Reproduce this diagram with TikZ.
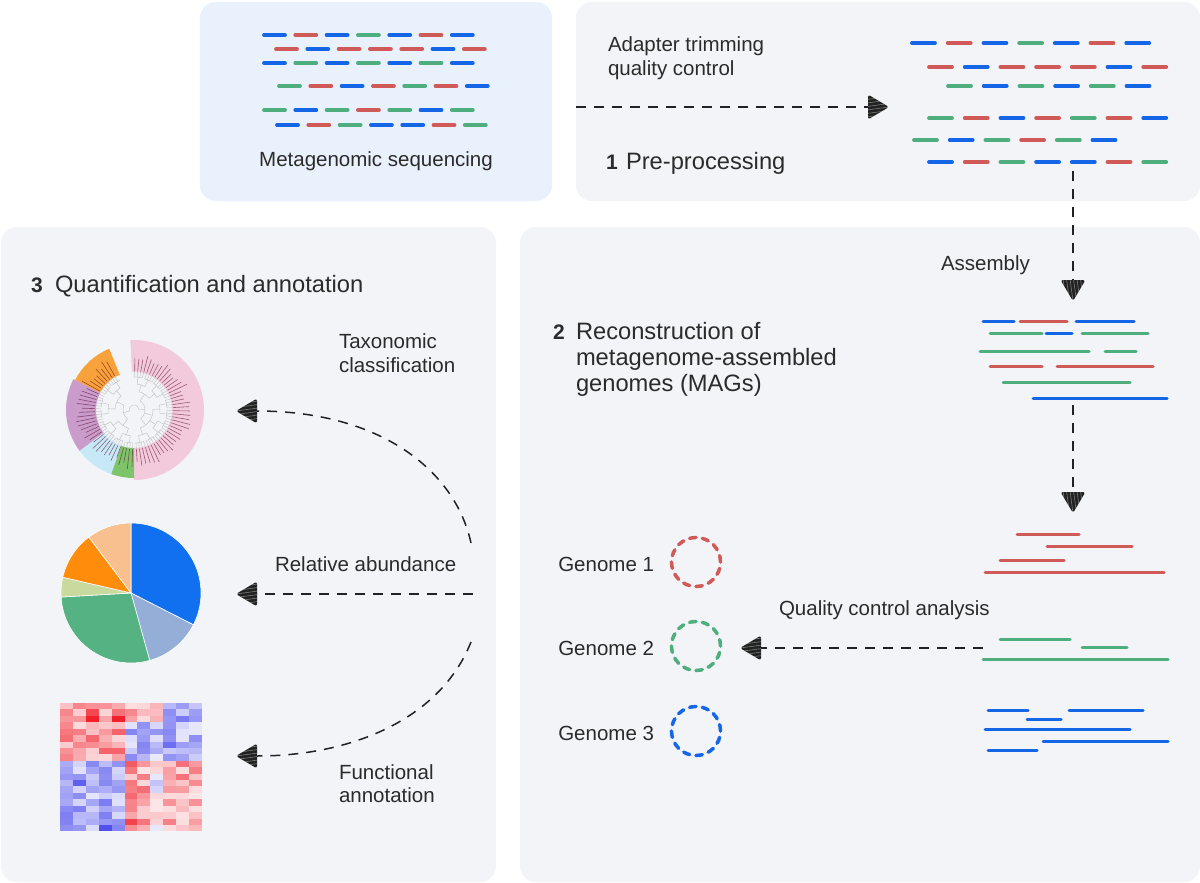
\documentclass[tikz,border=0pt]{standalone}
\usepackage{fontspec}
\setmainfont{Liberation Sans}
\usetikzlibrary{calc}
\definecolor{boxgray}{HTML}{F3F4F8}
\definecolor{boxblue}{HTML}{E9F1FC}
\definecolor{rb}{HTML}{1466E6}
\definecolor{rr}{HTML}{D05A57}
\definecolor{rg}{HTML}{4FAE7E}
\definecolor{txt}{HTML}{2B2B2B}
\definecolor{arrc}{HTML}{222222}
\definecolor{hmred}{HTML}{F0202C}
\definecolor{hmblue}{HTML}{4A4AEC}
\definecolor{pblue}{HTML}{1070F0}
\definecolor{plblue}{HTML}{94AED8}
\definecolor{pgreen}{HTML}{55B283}
\definecolor{pyg}{HTML}{C9DA9E}
\definecolor{porange}{HTML}{FF8C0A}
\definecolor{ppeach}{HTML}{F8C08F}
\definecolor{tpink}{HTML}{F2CADB}
\definecolor{torange}{HTML}{F7A23A}
\definecolor{tpurple}{HTML}{C99CCC}
\definecolor{tlblue}{HTML}{C6E8F7}
\definecolor{tgreen}{HTML}{7DC46B}
\newcommand\readrow[5]{\foreach \cc [count=\i from 0] in {#5}{\draw[read,\cc] ({#2+\i*#3},#1) -- ++(#4,0);}}
\newcommand\treesector[4]{\fill[#1] ($(tc)+(#2:38)$) arc[start angle=#2,end angle=#3,radius=38] -- ($(tc)+(#3:#4)$) arc[start angle=#3,end angle=#2,radius=#4] -- cycle;}
\newcommand\pieslice[3]{\fill[#1, draw=white, line width=0.6pt] (pc) -- ($(pc)+(#2:70)$) arc[start angle=#2, end angle=#3, radius=70] -- cycle;}
\newcommand\treetick[1]{%
  \pgfmathsetmacro\L{50+10*rnd}%
  \draw[tree] ($(tc)+(#1:33)$) -- ($(tc)+(#1:39)$);%
  \draw[black!55!purple, opacity=0.55, line width=0.6pt] ($(tc)+(#1:39)$) -- ($(tc)+(#1:\L)$);}
\tikzset{
  read/.style={line width=3.8pt, line cap=round},
  contig/.style={line width=3pt, line cap=round},
  body/.style={font=\fontsize{20.5}{24}\selectfont},
  head/.style={font=\fontsize{23.7}{28}\selectfont},
  num/.style={font=\bfseries\fontsize{21}{24}\selectfont},
  conn/.style={arrc, line width=1.5pt, dash pattern=on 10pt off 8pt},
  gcirc/.style={circle, minimum size=49pt, line width=3.5pt, dash pattern=on 6.5pt off 6.3pt, line cap=round},
  tree/.style={gray!45, line width=0.5pt},
  ahead/.pic={
    \fill[arrc, rounded corners=2.5pt] (0,0) -- (-21,-12.5) -- (-21,12.5) -- cycle;
    \begin{scope}
      \clip (0,0) -- (-21,-12.5) -- (-21,12.5) -- cycle;
      \foreach \k in {-11,-7.5,...,14} \draw[white, opacity=0.4, line width=0.6pt] (-22,\k) -- (0,\k-3);
    \end{scope}
  }
}
\begin{document}
\begin{tikzpicture}[x=1pt,y=-1pt, every node/.style={inner sep=0pt, outer sep=0pt, text=txt}]
\useasboundingbox (0,0) rectangle (1200,883);
\fill[white] (0,0) rectangle (1200,883);

% boxes
\fill[boxblue, rounded corners=16pt] (200,2) rectangle (552,201);
\fill[boxgray, rounded corners=16pt] (576,2) rectangle (1200,201);
\fill[boxgray, rounded corners=16pt] (1,227) rectangle (496,882);
\fill[boxgray, rounded corners=16pt] (520,227) rectangle (1200,882);

% raw reads
\readrow{35}{264}{31.3}{21}{rb,rr,rb,rg,rb,rr,rb}
\readrow{49}{276}{31.3}{21}{rr,rb,rr,rr,rr,rb,rr}
\readrow{63}{264}{31.3}{21}{rb,rg,rb,rg,rb,rg,rb}
\readrow{86}{279}{31.3}{21}{rg,rr,rb,rr,rg,rr,rb}
\readrow{110}{264}{31.3}{21}{rg,rb,rg,rr,rg,rb,rg}
\readrow{125}{277}{31.3}{21}{rb,rr,rg,rb,rb,rr,rg}

% trimmed reads
\readrow{43}{912}{35.7}{23}{rb,rr,rb,rg,rb,rr,rb}
\readrow{67}{929}{35.7}{23}{rr,rb,rr,rr,rr,rb,rr}
\readrow{86}{948}{35.7}{23}{rg,rb,rg,rb,rg,rb}
\readrow{118}{929}{35.7}{23}{rg,rr,rb,rr,rg,rr,rb}
\readrow{140}{914}{35.7}{23}{rg,rb,rg,rr,rg,rb}
\readrow{162}{929}{35.7}{23}{rb,rr,rg,rb,rb,rr,rg}

% contigs
\draw[contig,rb] (983,321) -- (1014,321);
\draw[contig,rr] (1020,321) -- (1067,321);
\draw[contig,rb] (1076,321) -- (1134,321);
\draw[contig,rg] (990,333) -- (1042,333);
\draw[contig,rb] (1046,333) -- (1072,333);
\draw[contig,rg] (1082,333) -- (1148,333);
\draw[contig,rg] (980,351) -- (1089,351);
\draw[contig,rg] (1105,351) -- (1136,351);
\draw[contig,rr] (990,366) -- (1042,366);
\draw[contig,rr] (1057,366) -- (1153,366);
\draw[contig,rg] (1003,382) -- (1130,382);
\draw[contig,rb] (1033,398) -- (1167,398);

% binned contigs
\draw[contig,rr] (1017,534) -- (1079,534);
\draw[contig,rr] (1047,546) -- (1132,546);
\draw[contig,rr] (1000,560) -- (1064,560);
\draw[contig,rr] (985,572) -- (1164,572);
\draw[contig,rg] (1000,639) -- (1070,639);
\draw[contig,rg] (1082,647) -- (1127,647);
\draw[contig,rg] (983,659) -- (1168,659);
\draw[contig,rb] (988,710) -- (1028,710);
\draw[contig,rb] (1069,710) -- (1143,710);
\draw[contig,rb] (1027,719) -- (1061,719);
\draw[contig,rb] (985,729) -- (1130,729);
\draw[contig,rb] (1043,741) -- (1168,741);
\draw[contig,rb] (988,750) -- (1037,750);

% texts
\node[body, anchor=base] (seq) at (376,166) {Metagenomic sequencing};
\node[body, anchor=base west] (adapt) at (608,52) {Adapter trimming};
\node[body, anchor=base west] (qualc) at (608,76) {quality control};
\node[num, anchor=base west] (n1) at (606,169) {1};
\node[head, anchor=base west] (pre) at (626,169) {Pre-processing};
\node[body, anchor=base west] (asm) at (941,270) {Assembly};
\node[num, anchor=base west] (n2) at (553,339) {2};
\node[head, anchor=base west] (rec1) at (576,339) {Reconstruction of};
\node[head, anchor=base west] (rec2) at (576,365) {metagenome-assembled};
\node[head, anchor=base west] (rec3) at (576,391) {genomes (MAGs)};
\node[num, anchor=base west] (n3) at (31,292) {3};
\node[head, anchor=base west] (quant) at (55,292) {Quantification and annotation};
\node[body, anchor=base west] (tax1) at (339,348) {Taxonomic};
\node[body, anchor=base west] (tax2) at (339,372) {classification};
\node[body, anchor=base west] (relab) at (275,571) {Relative abundance};
\node[body, anchor=base west] (fun1) at (339,779) {Functional};
\node[body, anchor=base west] (fun2) at (339,802) {annotation};
\node[body, anchor=base west] (qca) at (779,615) {Quality control analysis};
\node[body, anchor=base east] (gl1) at (654,571) {Genome 1};
\node[body, anchor=base east] (gl2) at (654,655) {Genome 2};
\node[body, anchor=base east] (gl3) at (654,740) {Genome 3};

% genome bins
\node[gcirc, draw=rr] (g1) at (696,562) {};
\node[gcirc, draw=rg] (g2) at (696,646) {};
\node[gcirc, draw=rb] (g3) at (696,731) {};

% connectors
\coordinate (a1s) at (576,107); \coordinate (a1b) at (868,107); \coordinate (a1t) at (889,107);
\draw[conn] (a1s) -- (a1b);
\pic at (a1t) {ahead};
\coordinate (a2s) at (1073,171); \coordinate (a2b) at (1073,280); \coordinate (a2t) at (1073,301);
\draw[conn] (a2s) -- (a2b);
\pic[rotate=-90] at (a2t) {ahead};
\coordinate (a3s) at (1073,405); \coordinate (a3b) at (1073,492); \coordinate (a3t) at (1073,513);
\draw[conn] (a3s) -- (a3b);
\pic[rotate=-90] at (a3t) {ahead};
\coordinate (a4s) at (983,648); \coordinate (a4b) at (761,648); \coordinate (a4t) at (740,648);
\draw[conn] (a4s) -- (a4b);
\pic[rotate=180] at (a4t) {ahead};
\coordinate (a5s) at (473,594); \coordinate (a5b) at (257,594); \coordinate (a5t) at (236,594);
\draw[conn] (a5s) -- (a5b);
\pic[rotate=180] at (a5t) {ahead};
\coordinate (a6s) at (471,543); \coordinate (a6b) at (257,411); \coordinate (a6t) at (236,411);
\draw[conn] (a6s) .. controls (455,470) and (380,411) .. (a6b);
\pic[rotate=180] at (a6t) {ahead};
\coordinate (a7s) at (471,642); \coordinate (a7b) at (257,756); \coordinate (a7t) at (236,756);
\draw[conn] (a7s) .. controls (440,720) and (350,756) .. (a7b);
\pic[rotate=180] at (a7t) {ahead};

% pie chart
\coordinate (pc) at (131,593);
\pieslice{pblue}{-90}{27}
\pieslice{plblue}{27}{74.5}
\pieslice{pgreen}{74.5}{176.7}
\pieslice{pyg}{176.7}{193}
\pieslice{porange}{193}{233}
\pieslice{ppeach}{233}{270}

% tree
\coordinate (tc) at (134,410);
\treesector{tpink}{-93}{90}{70}
\treesector{torange}{-153}{-112}{66}
\treesector{tpurple}{-217}{-153}{68}
\treesector{tlblue}{-250.5}{-217}{68}
\treesector{tgreen}{-270}{-250.5}{68}
\pgfmathsetseed{11}
\foreach \t in {-268,-263.5,...,-116}{\treetick{\t}}
\foreach \t in {-89,-84.5,...,88}{\treetick{\t}}
\foreach \a/\b in {-268/-256,-250/-238,-232/-220,-214/-200,-195/-180,-175/-160,-150/-136,-130/-115,-90/-76,-72/-58,-54/-40,-36/-22,-18/-4,0/14,18/32,36/50,54/68,72/88}{
  \draw[tree] ($(tc)+(\a:33)$) arc[start angle=\a, end angle=\b, radius=33];
  \pgfmathsetmacro\m{(\a+\b)/2}
  \draw[tree] ($(tc)+(\m:26)$) -- ($(tc)+(\m:33)$);
}
\foreach \a/\b in {-262/-244,-226/-207,-187/-167,-143/-122,-83/-65,-47/-29,-11/7,25/43,61/80}{
  \draw[tree] ($(tc)+(\a:26)$) arc[start angle=\a, end angle=\b, radius=26];
  \pgfmathsetmacro\m{(\a+\b)/2}
  \draw[tree] ($(tc)+(\m:19)$) -- ($(tc)+(\m:26)$);
}
\foreach \a/\b in {-253/-216,-177/-132,-74/-38,-2/34,34/70}{
  \draw[tree] ($(tc)+(\a:19)$) arc[start angle=\a, end angle=\b, radius=19];
  \pgfmathsetmacro\m{(\a+\b)/2}
  \draw[tree] ($(tc)+(\m:11)$) -- ($(tc)+(\m:19)$);
}
\foreach \a/\b in {-234/-154,-56/52}{
  \draw[tree] ($(tc)+(\a:11)$) arc[start angle=\a, end angle=\b, radius=11];
  \pgfmathsetmacro\m{(\a+\b)/2}
  \draw[tree] ($(tc)+(\m:5)$) -- ($(tc)+(\m:11)$);
}
\draw[tree] ($(tc)+(-194:5)$) arc[start angle=-194, end angle=-2, radius=5];

% heatmap
\pgfmathsetseed{42}
\foreach \c in {0,...,10}{
  \foreach \r in {0,...,19}{
    \pgfmathsetmacro\bias{ifthenelse(\r<9, ifthenelse(\c<5,0.45,ifthenelse(\r<3,ifthenelse(\c<8,0.3,-0.35),-0.4)), ifthenelse(\c<5,-0.45,ifthenelse(\c==7,-0.2,0.4)))}
    \pgfmathsetmacro\v{max(-1,min(1,\bias+0.8*(rnd-0.5)))}
    \pgfmathtruncatemacro\p{min(100,12+70*abs(\v)+35*ifthenelse(rnd>0.9,1,0))}
    \ifdim\v pt>0pt \def\hc{hmred}\else\def\hc{hmblue}\fi
    \fill[\hc!\p!white] ({60+\c*12.9},{703+\r*6.42}) rectangle ++(12.95,6.47);
  }
}
\end{tikzpicture}
\end{document}
